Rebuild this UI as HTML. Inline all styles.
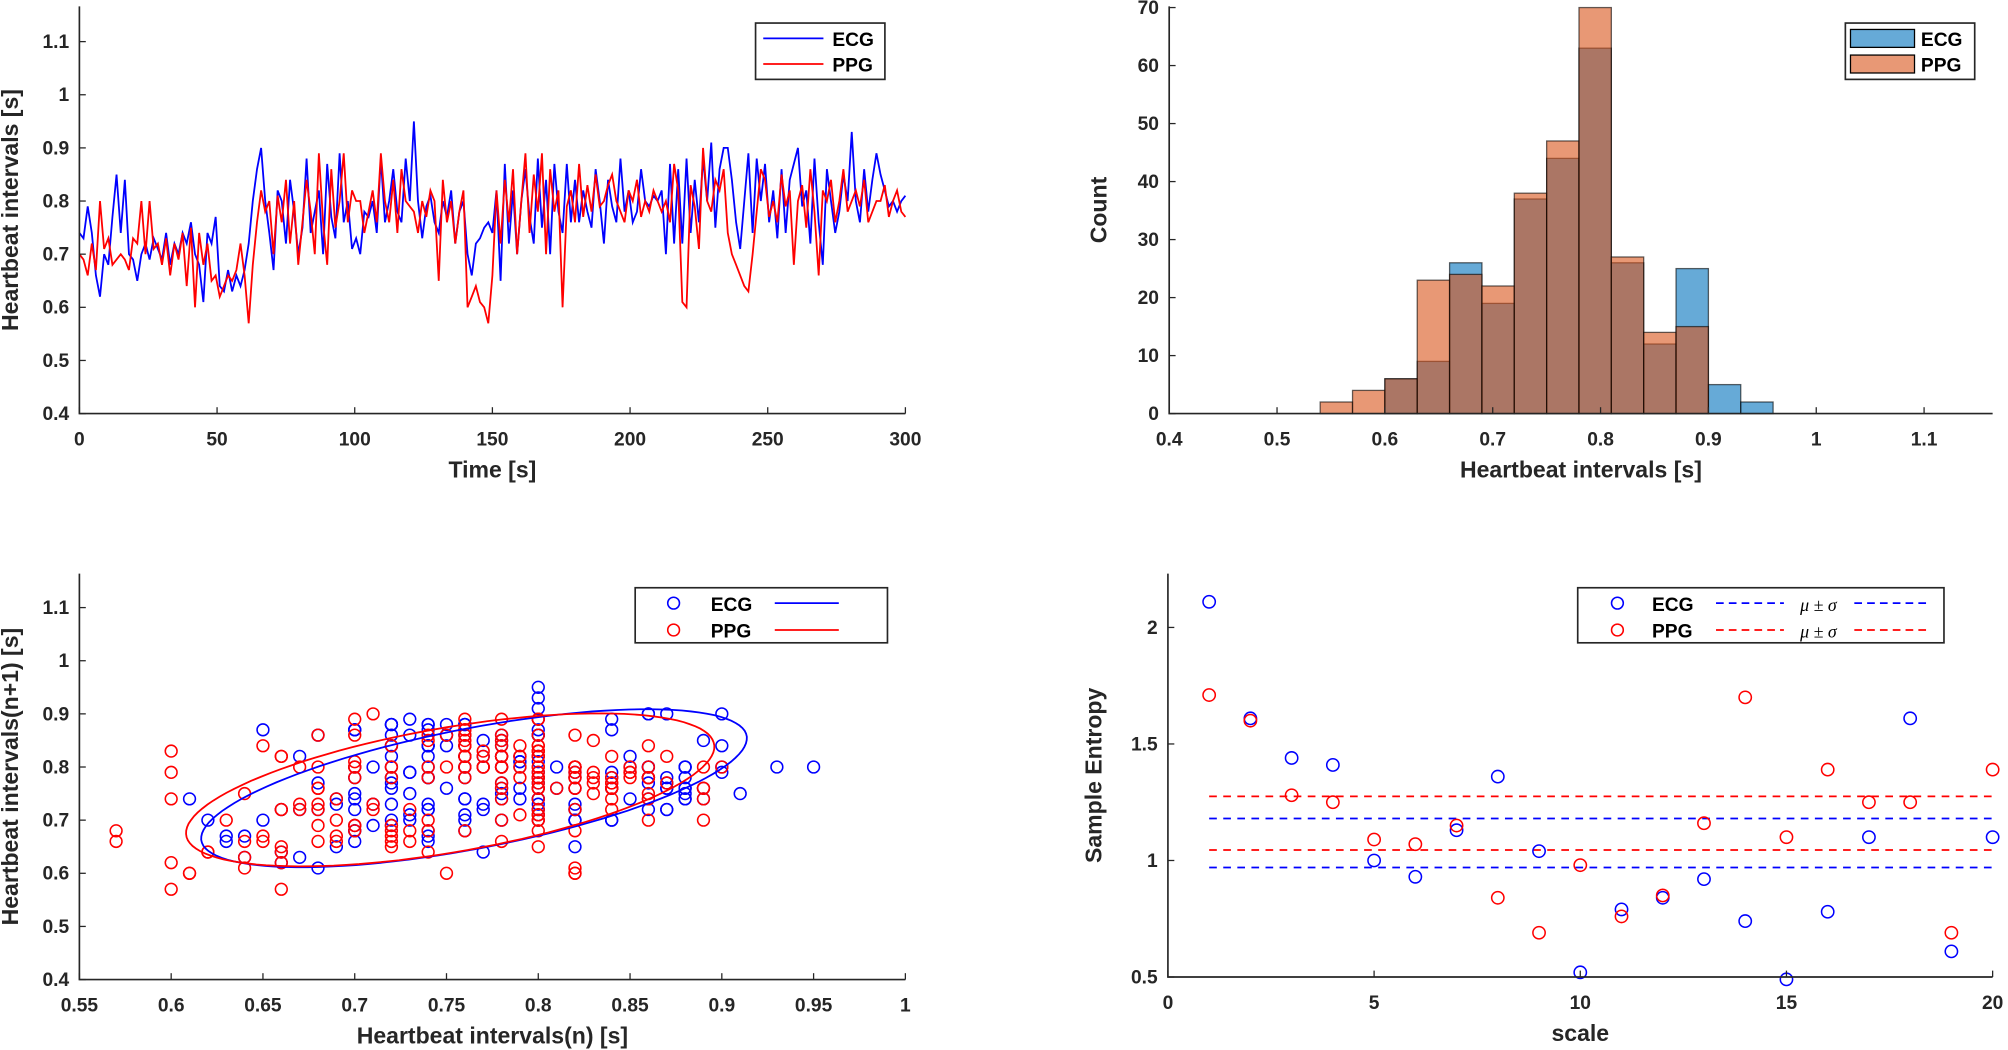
<!DOCTYPE html>
<html><head><meta charset="utf-8">
<style>
html,body{margin:0;padding:0;background:#fff;}
svg{display:block;font-family:"Liberation Sans",sans-serif;}
.tk{font-size:15px;font-weight:bold;fill:#262626;}
.tt{font-size:18px;font-weight:bold;fill:#262626;}
.lg{font-size:15px;font-weight:bold;fill:#000;}
</style></head>
<body>
<svg id="fig" width="2008" height="1050" viewBox="0 0 1568 820" preserveAspectRatio="none" xmlns="http://www.w3.org/2000/svg"></svg>
<script>
// ---- data ----
const ecgRR = [0.74,0.73,0.79,0.74,0.66,0.62,0.70,0.68,0.77,0.85,0.74,0.84,0.70,0.69,0.65,0.70,0.72,0.69,0.73,0.71,0.69,0.74,0.68,0.72,0.70,0.74,0.72,0.76,0.70,0.68,0.61,0.74,0.72,0.77,0.64,0.63,0.67,0.63,0.66,0.64,0.67,
0.72,0.80,0.86,0.90,
0.80,0.74,0.67,0.82,0.80,0.72,0.84,0.78,0.70,0.75,0.88,0.74,0.78,0.82,0.70,0.87,0.77,0.73,0.89,0.76,0.80,0.71,0.73,0.70,0.78,0.77,0.80,0.74,0.88,0.76,0.80,0.86,0.78,0.76,0.88,0.80,
0.95,0.80,0.73,0.79,0.81,0.76,0.74,0.80,0.77,0.82,0.72,0.78,0.80,
0.70,0.66,0.72,0.73,0.75,0.76,0.74,
0.82,0.65,0.87,0.72,0.82,0.70,0.80,0.86,0.77,0.72,0.88,0.75,0.84,0.70,0.87,0.78,0.74,0.87,0.76,0.84,0.76,0.82,0.78,0.75,0.86,0.80,0.72,0.84,0.79,0.76,0.88,0.78,0.82,0.76,0.78,0.86,0.80,0.79,0.81,0.80,
0.82,0.70,0.87,0.72,0.86,0.72,0.88,0.74,0.84,0.76,0.88,0.80,0.91,0.75,0.86,0.90,0.90,0.84,0.76,0.71,0.80,0.89,0.74,0.88,0.80,0.87,
0.76,0.82,0.73,0.86,0.74,0.84,0.87,0.90,0.79,0.82,0.72,0.88,0.76,0.68,0.86,0.80,0.74,0.78,0.85,0.80,0.93,0.80,0.76,0.86,0.78,0.84,0.89,0.85,0.82,0.79,0.80,0.78,0.80,0.81];
const ppgRR = [0.70,0.69,0.66,0.72,0.67,0.80,0.71,0.73,0.68,0.69,0.70,0.69,0.67,0.73,0.72,0.80,0.70,0.80,0.71,0.72,0.68,0.73,0.66,0.72,0.69,0.74,0.64,0.75,0.60,0.74,0.68,0.72,0.65,0.66,0.62,0.64,0.66,0.65,0.67,0.72,0.66,
0.57,0.68,0.76,0.82,
0.78,0.80,0.70,0.81,0.76,0.84,0.72,0.80,0.68,0.76,0.84,0.78,0.70,0.89,0.76,0.68,0.86,0.75,0.80,0.89,0.76,0.82,0.80,0.80,0.74,0.78,0.82,0.76,0.89,0.80,0.76,0.84,0.74,0.86,0.80,0.79,
0.78,0.74,0.80,0.77,0.82,0.80,0.65,0.84,0.76,0.80,0.72,0.78,0.82,
0.60,0.62,0.64,0.61,0.60,0.57,0.66,
0.82,0.72,0.84,0.76,0.86,0.70,0.80,0.89,0.74,0.85,0.78,0.89,0.70,0.86,0.78,0.82,0.60,0.79,0.82,0.76,0.87,0.77,0.83,0.78,0.85,0.79,0.80,0.83,0.85,0.80,0.78,0.76,0.82,0.80,0.84,0.77,0.80,0.78,0.82,0.80,
0.78,0.80,0.76,0.87,0.82,0.61,0.60,0.83,0.79,0.71,0.90,0.80,0.78,0.84,0.82,0.86,0.74,0.70,0.68,0.66,0.64,0.63,0.70,0.78,0.86,0.84,
0.77,0.80,0.76,0.85,0.79,0.82,0.68,0.80,0.83,0.75,0.86,0.78,0.66,0.82,0.80,0.84,0.76,0.80,0.86,0.78,0.80,0.82,0.79,0.84,0.76,0.78,0.80,0.80,0.83,0.77,0.80,0.82,0.78,0.77];
const histBinStart = 0.54;
const histBinWidth = 0.03;
const histEcg = [0,0,6,9,26,19,37,44,63,26,12,25,5,2];
const histPpg = [2,4,6,23,24,22,38,47,70,27,14,15,0,0];
const ellipseEcg = [0.765,0.76,0.19,0.09];   // cx, cy, semi-major, semi-minor (data units, 45deg)
const ellipsePpg = [0.752,0.757,0.18,0.095];
const scales = [1,2,3,4,5,6,7,8,9,10,11,12,13,14,15,16,17,18,19,20];
const sampEnEcg = [2.11,1.61,1.44,1.41,1.00,0.93,1.13,1.36,1.04,0.52,0.79,0.84,0.92,0.74,0.49,0.78,1.10,1.61,0.61,1.10];
const sampEnPpg = [1.71,1.60,1.28,1.25,1.09,1.07,1.15,0.84,0.69,0.98,0.76,0.85,1.16,1.70,1.10,1.39,1.25,1.25,0.69,1.39];
const bandEcg = [0.97,1.18];
const bandPpg = [1.045,1.275];
const tlYTicks = [0.4,0.5,0.6,0.7,0.8,0.9,1,1.1];
const tlXTicks = [0,50,100,150,200,250,300];
const trXTicks = [0.4,0.5,0.6,0.7,0.8,0.9,1,1.1];
const trYTicks = [0,10,20,30,40,50,60,70];
const blXTicks = [0.55,0.6,0.65,0.7,0.75,0.8,0.85,0.9,0.95,1];
const blYTicks = [0.4,0.5,0.6,0.7,0.8,0.9,1,1.1];
const brXTicks = [0,5,10,15,20];
const brYTicks = [0.5,1,1.5,2];

const NS="http://www.w3.org/2000/svg";
const svg=document.getElementById('fig');
function mk(tag,attrs,parent,txt){const e=document.createElementNS(NS,tag);for(const k in attrs)e.setAttribute(k,attrs[k]);if(txt!==undefined)e.textContent=txt;(parent||svg).appendChild(e);return e;}
function grp(name){const g=mk('g',{});


return g;}
const AX='#262626';
function axes(g,x0,x1,y0,y1,xt,xs,yt,ys,xlab,ylab,ylx){
  const a=mk('path',{d:`M${x0},${y1}V${y0}H${x1}`,fill:'none',stroke:AX,'stroke-width':1.3},g);
  
  
  xt.forEach(v=>{const x=xs(v);mk('line',{x1:x,x2:x,y1:y0,y2:y0-5,stroke:AX},g);
    const t=mk('text',{x:x,y:y0+25,'text-anchor':'middle',class:'tk'},g,String(v));
    
    });
  yt.forEach(v=>{const y=ys(v);mk('line',{x1:x0,x2:x0+5,y1:y,y2:y,stroke:AX},g);
    const t=mk('text',{x:x0-8,y:y+5,'text-anchor':'end',class:'tk'},g,String(v));
    
    });
  const xl=mk('text',{x:(x0+x1)/2,y:y0+50,'text-anchor':'middle',class:'tt'},g,xlab);
  
  
  const yc=(y0+y1)/2;
  const yl=mk('text',{x:ylx,y:yc,'text-anchor':'middle',class:'tt',transform:`rotate(-90 ${ylx} ${yc})`},g,ylab);
  
  
}
function legendBox(g,x,y,w,h){const r=mk('rect',{x:x,y:y,width:w,height:h,fill:'#fff',stroke:'#262626','stroke-width':1.3},g);

}

// ---- Top-left: time series ----
(function(){
  const g=grp('time-series-chart');
  const xs=v=>62+v*(645/300), ys=v=>323-(v-0.4)*415;
  [[ecgRR,'#0000ff','ecg-line'],[ppgRR,'#ff0000','ppg-line']].forEach(([d,c,n])=>{
    const pts=d.map((v,i)=>xs(i*300/(d.length-1)).toFixed(1)+','+ys(v).toFixed(1)).join(' ');
    const p=mk('polyline',{points:pts,fill:'none',stroke:c,'stroke-width':1.4},g);
    
    
  });
  axes(g,62,707,323,5,tlXTicks,xs,tlYTicks,ys,'Time [s]','Heartbeat intervals [s]',14);
  const lg=grp('legend');g.appendChild(lg);
  legendBox(lg,590,18,101,44);
  mk('line',{x1:596,x2:643,y1:30,y2:30,stroke:'#0000ff','stroke-width':1.4},lg);
  mk('text',{x:650,y:36,class:'lg'},lg,'ECG');
  mk('line',{x1:596,x2:643,y1:50,y2:50,stroke:'#ff0000','stroke-width':1.4},lg);
  mk('text',{x:650,y:56,class:'lg'},lg,'PPG');
})();

// ---- Top-right: histogram ----
(function(){
  const g=grp('histogram-chart');
  const xs=v=>913+(v-0.4)*842.1, ys=c=>323-c*4.53;
  [[histEcg,'#0072BD','ecg-bar'],[histPpg,'#D95319','ppg-bar']].forEach(([d,c,n])=>{
    d.forEach((cnt,i)=>{ if(cnt<=0) return;
      const x0=xs(histBinStart+i*histBinWidth), x1=xs(histBinStart+(i+1)*histBinWidth);
      const r=mk('rect',{x:x0,y:ys(cnt),width:x1-x0,height:ys(0)-ys(cnt),fill:c,'fill-opacity':0.6,stroke:'#000','stroke-opacity':0.6,'stroke-width':1},g);
      
      
    });
  });
  axes(g,913,1556,323,5,trXTicks,xs,trYTicks,ys,'Heartbeat intervals [s]','Count',864);
  const lg=grp('legend');g.appendChild(lg);
  legendBox(lg,1441,18,101,44);
  mk('rect',{x:1445,y:23,width:50,height:14,fill:'#0072BD','fill-opacity':0.6,stroke:'#000'},lg);
  mk('text',{x:1500,y:36,class:'lg'},lg,'ECG');
  mk('rect',{x:1445,y:43,width:50,height:14,fill:'#D95319','fill-opacity':0.6,stroke:'#000'},lg);
  mk('text',{x:1500,y:56,class:'lg'},lg,'PPG');
})();

// ---- Bottom-left: Poincare ----
(function(){
  const g=grp('poincare-chart');
  const xs=v=>62+(v-0.55)*1433.3, ys=v=>765-(v-0.4)*415;
  [[ecgRR,'#0000ff','ecg-point'],[ppgRR,'#ff0000','ppg-point']].forEach(([d,c,n])=>{
    for(let i=0;i<d.length-1;i++){
      const ci=mk('circle',{cx:xs(d[i]),cy:ys(d[i+1]),r:4.6,fill:'none',stroke:c,'stroke-width':1.2},g);
      
      
    }
  });
  [[ellipseEcg,'#0000ff','ecg-ellipse'],[ellipsePpg,'#ff0000','ppg-ellipse']].forEach(([e,c,n])=>{
    const pts=[];const k=Math.SQRT1_2;
    for(let i=0;i<=120;i++){const t=i/120*2*Math.PI;const u=e[2]*Math.cos(t),w=e[3]*Math.sin(t);
      pts.push(xs(e[0]+k*(u-w)).toFixed(1)+','+ys(e[1]+k*(u+w)).toFixed(1));}
    const p=mk('polyline',{points:pts.join(' '),fill:'none',stroke:c,'stroke-width':1.4},g);
    
    
  });
  axes(g,62,707,765,448,blXTicks,xs,blYTicks,ys,'Heartbeat intervals(n) [s]','Heartbeat intervals(n+1) [s]',14);
  const lg=grp('legend');g.appendChild(lg);
  legendBox(lg,496,459,197,43);
  mk('circle',{cx:526,cy:471,r:4.6,fill:'none',stroke:'#0000ff','stroke-width':1.2},lg);
  mk('text',{x:555,y:477,class:'lg'},lg,'ECG');
  mk('line',{x1:605,x2:655,y1:471,y2:471,stroke:'#0000ff','stroke-width':1.4},lg);
  mk('circle',{cx:526,cy:492,r:4.6,fill:'none',stroke:'#ff0000','stroke-width':1.2},lg);
  mk('text',{x:555,y:498,class:'lg'},lg,'PPG');
  mk('line',{x1:605,x2:655,y1:492,y2:492,stroke:'#ff0000','stroke-width':1.4},lg);
})();

// ---- Bottom-right: sample entropy ----
(function(){
  const g=grp('sample-entropy-chart');
  const xs=v=>912+v*32.2, ys=v=>763-(v-0.5)*182;
  [[bandEcg,'#0000ff','ecg-band-line'],[bandPpg,'#ff0000','ppg-band-line']].forEach(([b,c,n])=>{
    b.forEach(v=>{const l=mk('line',{x1:xs(scales[0]),x2:xs(scales[scales.length-1]),y1:ys(v),y2:ys(v),stroke:c,'stroke-width':1.4,'stroke-dasharray':'6 5'},g);
      
      });
  });
  [[sampEnEcg,'#0000ff','ecg-point'],[sampEnPpg,'#ff0000','ppg-point']].forEach(([d,c,n])=>{
    d.forEach((v,i)=>{const ci=mk('circle',{cx:xs(scales[i]),cy:ys(v),r:4.8,fill:'none',stroke:c,'stroke-width':1.2},g);
      
      });
  });
  axes(g,912,1556,763,448,brXTicks,xs,brYTicks,ys,'scale','Sample Entropy',860);
  const lg=grp('legend');g.appendChild(lg);
  legendBox(lg,1232,459,286,43);
  mk('circle',{cx:1263,cy:471,r:4.6,fill:'none',stroke:'#0000ff','stroke-width':1.2},lg);
  mk('text',{x:1290,y:477,class:'lg'},lg,'ECG');
  mk('line',{x1:1340,x2:1393,y1:471,y2:471,stroke:'#0000ff','stroke-width':1.3,'stroke-dasharray':'6 4'},lg);
  mk('text',{x:1420,y:477,'text-anchor':'middle','font-size':14,'font-family':'Liberation Serif, serif','font-style':'italic'},lg,'μ ± σ');
  mk('line',{x1:1448,x2:1505,y1:471,y2:471,stroke:'#0000ff','stroke-width':1.3,'stroke-dasharray':'6 4'},lg);
  mk('circle',{cx:1263,cy:492,r:4.6,fill:'none',stroke:'#ff0000','stroke-width':1.2},lg);
  mk('text',{x:1290,y:498,class:'lg'},lg,'PPG');
  mk('line',{x1:1340,x2:1393,y1:492,y2:492,stroke:'#ff0000','stroke-width':1.3,'stroke-dasharray':'6 4'},lg);
  mk('text',{x:1420,y:498,'text-anchor':'middle','font-size':14,'font-family':'Liberation Serif, serif','font-style':'italic'},lg,'μ ± σ');
  mk('line',{x1:1448,x2:1505,y1:492,y2:492,stroke:'#ff0000','stroke-width':1.3,'stroke-dasharray':'6 4'},lg);
})();
</script>
</body></html>
